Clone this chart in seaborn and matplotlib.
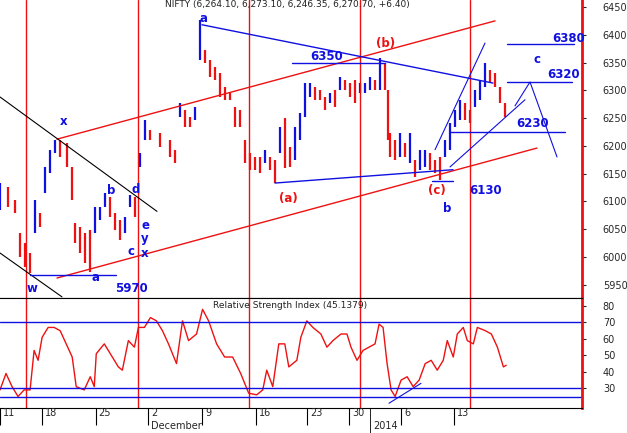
import matplotlib
matplotlib.use("Agg")
import matplotlib.pyplot as plt
import matplotlib.transforms as mtransforms
import seaborn as sns
import numpy as np
import pandas as pd

sns.set_style("white")
plt.rcParams['font.family'] = ['DejaVu Sans']

# ---- price bars: time index, high, low ----
bar_t = [0, 8, 15, 20, 25, 30, 35, 40, 45, 50, 55, 60, 67, 72, 75, 80, 85, 90, 95, 100,
         105, 110, 115, 120, 125, 130, 135, 140, 145, 150, 160, 170, 175, 180, 185, 190, 195,
         200, 205, 210, 215, 220, 225, 230, 235, 240, 245, 250, 255, 260, 265, 270, 275, 280,
         285, 290, 295, 300, 305, 310, 315, 320, 325, 330, 335, 340, 345, 350, 355, 360, 365,
         370, 375, 380, 385, 388, 390, 395, 400, 405, 410, 415, 420, 425, 430, 435, 440, 445,
         450, 455, 460, 465, 470, 475, 480, 485, 490, 495, 500, 505]
bar_high = [6133, 6126, 6103, 6043, 6025, 6007, 6103, 6079, 6162, 6193, 6211, 6211, 6205, 6162,
            6061, 6054, 6043, 6049, 6090, 6090, 6115, 6108, 6079, 6067, 6072, 6112, 6108, 6187,
            6247, 6229, 6223, 6211, 6193, 6277, 6265, 6252, 6270, 6427, 6373, 6355, 6342, 6331,
            6306, 6295, 6270, 6265, 6211, 6187, 6180, 6180, 6193, 6180, 6175, 6234, 6250, 6198,
            6234, 6259, 6313, 6313, 6306, 6301, 6288, 6295, 6301, 6324, 6319, 6313, 6319, 6313,
            6313, 6324, 6319, 6358, 6349, 6301, 6223, 6211, 6223, 6205, 6223, 6175, 6193, 6193,
            6187, 6175, 6180, 6211, 6241, 6265, 6283, 6277, 6265, 6301, 6319, 6349, 6337, 6331,
            6306, 6277]
bar_low = [6085, 6090, 6079, 6000, 5982, 5971, 6043, 6054, 6115, 6151, 6187, 6180, 6162, 6103,
           6025, 6007, 5989, 5972, 6043, 6067, 6090, 6072, 6049, 6031, 6043, 6090, 6072, 6162,
           6211, 6211, 6198, 6180, 6169, 6252, 6234, 6234, 6247, 6355, 6349, 6324, 6319, 6288,
           6283, 6283, 6234, 6234, 6169, 6157, 6157, 6151, 6169, 6157, 6133, 6187, 6160, 6162,
           6175, 6211, 6252, 6288, 6283, 6283, 6265, 6277, 6270, 6301, 6301, 6288, 6277, 6295,
           6295, 6301, 6301, 6301, 6301, 6211, 6180, 6175, 6180, 6180, 6169, 6144, 6157, 6162,
           6157, 6151, 6139, 6180, 6193, 6234, 6247, 6247, 6241, 6270, 6283, 6306, 6313, 6306,
           6277, 6252]

# ---- RSI ----
rsi_t_raw = [0, 15, 30, 45, 60, 75, 85, 95, 105, 120, 135, 150, 165, 180, 190, 210, 225, 235, 240,
             260, 280, 295, 305, 320, 335, 345, 360, 375, 390, 405, 420, 440, 455, 470, 490, 505,
             520, 540, 560, 580, 600, 620, 640, 655, 665, 680, 695, 710, 720, 740, 750, 765, 780,
             800, 815, 830, 850, 865, 875, 890, 905, 920, 935, 945, 955, 965, 975, 985, 1000,
             1015, 1030, 1045, 1060, 1075, 1090, 1105, 1115, 1130, 1140, 1155, 1165, 1180, 1190,
             1210, 1225, 1240, 1255, 1262]
rsi_val = [29, 39, 31, 25, 29, 29, 53, 47, 61, 67, 67, 65, 57, 49, 31, 29, 37, 31, 51, 57, 49, 43,
           41, 59, 55, 67, 67, 73, 71, 65, 57, 45, 71, 59, 63, 78, 71, 57, 49, 49, 39, 27, 26, 29,
           41, 31, 57, 57, 43, 47, 61, 71, 67, 63, 55, 59, 63, 63, 55, 47, 53, 55, 57, 69, 67, 45,
           29, 25, 35, 37, 31, 35, 45, 47, 41, 47, 59, 49, 63, 67, 59, 57, 67, 65, 63, 55, 43, 44]

week_sep = [0, 42, 95.5, 148, 202, 256, 307, 349, 401, 454]
week_labels = ["11", "18", "25", "2", "9", "16", "23", "30", "6", "13"]
month_sep = [148, 370]
month_labels = ["December", "2014"]
price_ticks = [5950, 6000, 6050, 6100, 6150, 6200, 6250, 6300, 6350, 6400, 6450]
rsi_ticks = [30, 40, 50, 60, 70, 80]
red_verticals = [26, 137.6, 249, 360, 470]

W, H = 627, 433
fig = plt.figure(figsize=(6.27, 4.33), dpi=100)
fig.patch.set_facecolor("white")
XR = 582
ax = fig.add_axes([0, 1 - 298 / H, XR / W, 298 / H])
ax2 = fig.add_axes([0, 1 - 408 / H, XR / W, 110 / H], sharex=ax)

BLUE = "#1010e0"
RED = "#ee1111"

bars = pd.DataFrame({"t": bar_t, "high": bar_high, "low": bar_low})
mid = (bars["high"] + bars["low"]) / 2
up = mid.diff().fillna(1) >= 0
ax.vlines(bars["t"], bars["low"], bars["high"], colors=np.where(up, BLUE, RED), lw=1.6)

ax.set_xlim(0, XR)
ax.set_ylim(5926, 6462.6)
ax2.set_ylim(18, 84.9)

for a in (ax, ax2):
    for xv in red_verticals:
        a.axvline(xv, color=RED, lw=1)
    a.yaxis.tick_right()
    a.tick_params(axis='y', labelsize=7, length=3, direction='out', right=True, pad=12)
    for s in ("left", "top"):
        a.spines[s].set_visible(False)
    a.spines["right"].set_color(RED)
    a.spines["right"].set_linewidth(2)
    a.spines["bottom"].set_color("black")

ax.set_yticks(price_ticks)
ax.set_yticklabels([str(v) for v in price_ticks])
ax.tick_params(axis='x', bottom=False, labelbottom=False)

def L(x0, y0, x1, y1, c, lw=1):
    ax.plot([x0, x1], [y0, y1], color=c, lw=lw)

L(57, 6212, 495, 6425, RED)
L(57, 5962, 537, 6196, RED)
L(202, 6418, 493, 6313, BLUE)
L(0, 6288, 157, 6082, "black", 0.8)
L(0, 6007, 62, 5928, "black", 0.8)
L(30, 5968, 116, 5968, BLUE)
L(292, 6349, 385, 6349, BLUE)
L(275, 6133, 453, 6157, BLUE)
L(432, 6137, 453, 6137, BLUE)
L(450, 6225, 565, 6225, BLUE)
L(507, 6315, 572, 6315, BLUE)
L(507, 6383, 574, 6383, BLUE)
L(435, 6193, 485, 6385, BLUE, 0.8)
L(450, 6162, 525, 6283, BLUE, 0.8)
ax.plot([515, 530, 557], [6272, 6315, 6180], color=BLUE, lw=0.8)

ax.text(165, 6455, "NIFTY (6,264.10, 6,273.10, 6,246.35, 6,270.70, +6.40)", fontsize=6.5,
        va='center', color="#222222")
labels = [
    (200, 6430, "a", BLUE), (60, 6243, "x", BLUE), (27, 5943, "w", BLUE), (92, 5963, "a", BLUE),
    (115, 5943, "5970", BLUE), (107, 6119, "b", BLUE), (132, 6121, "d", BLUE),
    (141, 6056, "e", BLUE), (141, 6034, "y", BLUE), (127, 6009, "c", BLUE),
    (141, 6007, "x", BLUE), (279, 6106, "(a)", RED), (310, 6360, "6350", BLUE),
    (376, 6385, "(b)", RED), (428, 6119, "(c)", RED), (469, 6119, "6130", BLUE),
    (443, 6087, "b", BLUE), (516, 6240, "6230", BLUE), (547, 6329, "6320", BLUE),
    (533, 6355, "c", BLUE), (552, 6394, "6380", BLUE)]
for x, y, s, c in labels:
    ax.text(x, y, s, color=c, fontsize=8.5, fontweight='bold', ha='left', va='center')

rsi = pd.DataFrame({"t": np.array(rsi_t_raw) / 2.493, "rsi": rsi_val})
sns.lineplot(data=rsi, x="t", y="rsi", ax=ax2, color=RED, lw=1, estimator=None, sort=False)
for lvl in (70, 30, 24.5):
    ax2.axhline(lvl, color=BLUE, lw=1)
ax2.plot([389, 421], [20.9, 33], color=BLUE, lw=0.8)
ax2.spines["top"].set_visible(True)
ax2.spines["top"].set_color("black")
ax2.set_yticks(rsi_ticks)
ax2.set_yticklabels([str(v) for v in rsi_ticks])
ax2.set_xlabel("")
ax2.set_ylabel("")
ax2.text(290, 80.5, "Relative Strength Index (45.1379)", fontsize=6.5, ha='center',
         va='center', color="#222222")

ax2.set_xticks(week_sep)
ax2.set_xticklabels([])
ax2.set_xticks(month_sep, minor=True)
ax2.tick_params(axis='x', which='major', length=12, direction='out', color='black', bottom=True)
ax2.tick_params(axis='x', which='minor', length=26, direction='out', color='black', bottom=True)
trans = mtransforms.blended_transform_factory(ax2.transData, fig.transFigure)
for xv, s in zip(week_sep, week_labels):
    fig.text(xv + 3, 1 - 413 / H, s, fontsize=7, transform=trans, va='center')
for xv, s in zip(month_sep, month_labels):
    fig.text(xv + 3, 1 - 426 / H, s, fontsize=7, transform=trans, va='center')

fig.savefig("out.png", dpi=100)
